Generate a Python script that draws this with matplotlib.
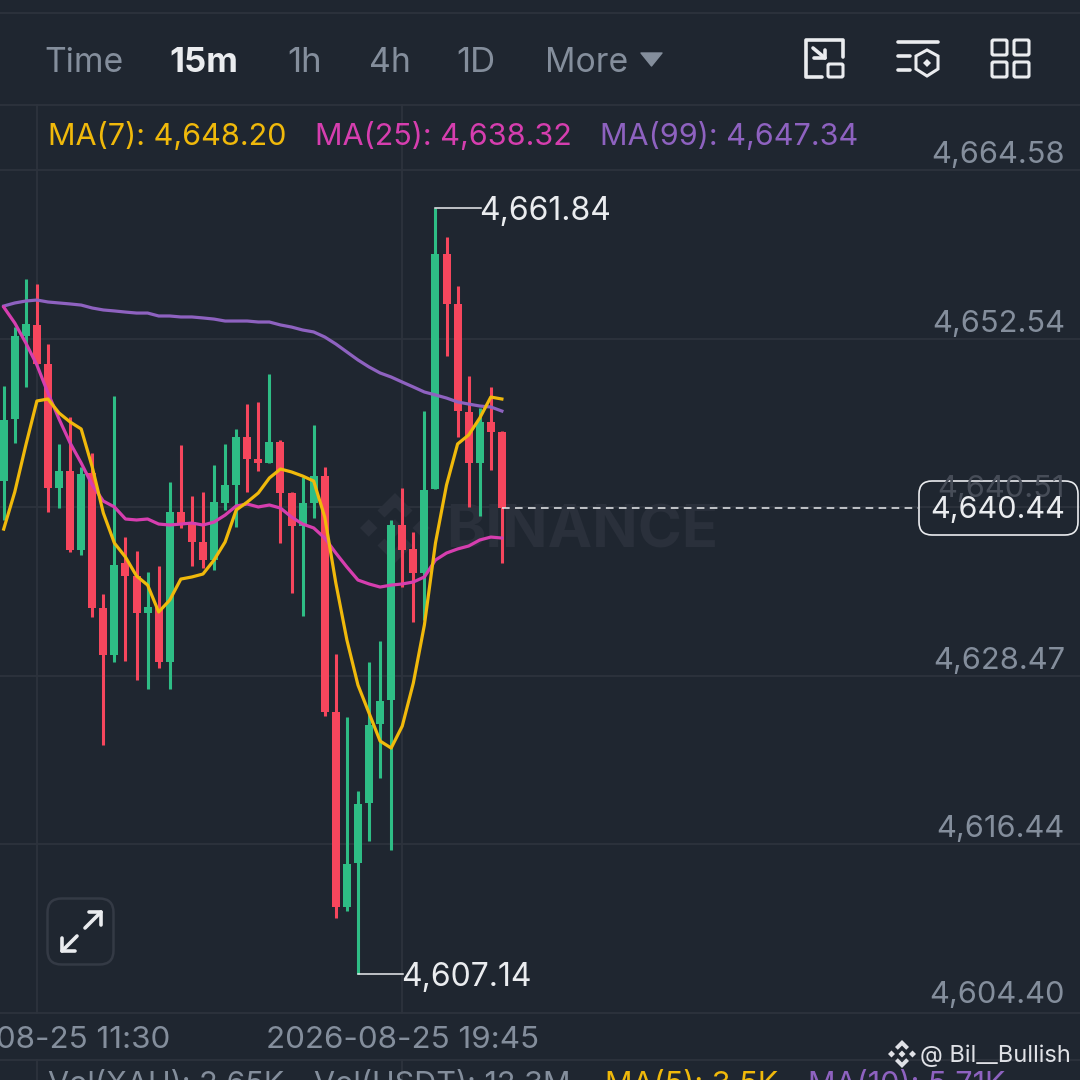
import matplotlib
matplotlib.use("Agg")
import matplotlib.pyplot as plt
from matplotlib.patches import FancyBboxPatch, Polygon

plt.rcParams['font.family'] = ['Inter', 'DejaVu Sans']

BG = '#1f2630'
GRID = '#2d333d'
GREEN = '#2ebd85'
RED = '#f6465d'
YELLOW = '#f0b90b'
PINK = '#d63eaf'
PURPLE = '#8e62c0'
GREY = '#848e9c'
WHITE = '#eaecef'
MARK = '#2a303b'

# 15m candles, oldest first
opens = [4642.36, 4646.79, 4652.72, 4653.51, 4650.72, 4641.86, 4643.08, 4637.43, 4642.93, 4633.29,
         4629.93, 4636.51, 4635.58, 4632.93, 4633.36, 4629.43, 4640.15, 4639.43, 4638.01, 4636.72,
         4640.79, 4642.08, 4645.51, 4643.93, 4643.65, 4645.15, 4641.51, 4639.15, 4640.79, 4642.72,
         4625.86, 4611.93, 4615.08, 4619.36, 4625.01, 4626.72, 4639.22, 4637.51, 4635.79, 4641.79,
         4658.58, 4655.01, 4647.29, 4643.65, 4646.58, 4645.86]
highs = [4649.15, 4653.36, 4656.79, 4656.43, 4652.15, 4645.01, 4646.93, 4643.36, 4644.36, 4634.29,
         4648.43, 4638.36, 4637.36, 4635.86, 4636.29, 4642.29, 4644.93, 4641.29, 4641.58, 4643.51,
         4645.01, 4646.08, 4647.86, 4648.01, 4650.01, 4645.29, 4641.58, 4642.65, 4646.36, 4643.36,
         4630.01, 4625.51, 4620.22, 4629.43, 4630.93, 4639.58, 4641.86, 4638.72, 4647.36, 4661.84,
         4659.79, 4656.29, 4649.86, 4647.58, 4649.08, 4645.93]
lows = [4639.58, 4645.08, 4649.08, 4650.72, 4640.15, 4640.43, 4637.29, 4637.08, 4632.65, 4623.51,
        4629.43, 4629.51, 4628.15, 4627.51, 4629.01, 4627.51, 4639.01, 4636.29, 4636.15, 4636.01,
        4640.29, 4639.08, 4641.58, 4643.08, 4643.65, 4637.93, 4634.36, 4632.72, 4639.72, 4625.58,
        4611.15, 4611.65, 4607.14, 4616.65, 4621.15, 4616.01, 4634.79, 4632.29, 4632.43, 4641.79,
        4651.29, 4645.51, 4640.51, 4639.86, 4643.15, 4636.51]
closes = [4646.72, 4652.72, 4653.58, 4650.72, 4641.86, 4643.08, 4637.43, 4642.86, 4633.29, 4629.93,
          4636.36, 4635.58, 4632.93, 4633.36, 4629.43, 4640.15, 4639.36, 4638.01, 4636.72, 4640.86,
          4642.08, 4645.51, 4643.93, 4643.65, 4645.15, 4641.51, 4639.15, 4640.79, 4642.72, 4625.86,
          4611.93, 4615.01, 4619.29, 4624.93, 4626.65, 4639.22, 4637.43, 4635.79, 4641.72, 4658.58,
          4655.01, 4647.36, 4643.65, 4646.58, 4645.86, 4640.44]

ma7 = [4638.93, 4641.58, 4644.93, 4648.08, 4648.22, 4647.22, 4646.58, 4646.08, 4643.36, 4640.08,
       4637.93, 4636.93, 4635.58, 4634.93, 4633.01, 4633.86, 4635.36, 4635.51, 4635.72, 4636.72,
       4638.01, 4640.29, 4640.86, 4641.51, 4642.58, 4643.22, 4643.01, 4642.72, 4642.36, 4639.79,
       4635.08, 4631.01, 4627.79, 4625.79, 4623.79, 4623.29, 4624.86, 4627.93, 4632.08, 4637.93,
       4642.08, 4645.01, 4645.65, 4646.86, 4648.36, 4648.22]
ma25 = [4654.79, 4653.65, 4652.22, 4650.65, 4648.65, 4646.79, 4645.08, 4643.65, 4642.08, 4640.93,
        4640.51, 4639.65, 4639.58, 4639.65, 4639.29, 4639.22, 4639.29, 4639.36, 4639.22, 4639.43,
        4639.93, 4640.58, 4640.72, 4640.51, 4640.65, 4640.43, 4639.79, 4639.29, 4639.01, 4638.29,
        4637.22, 4636.22, 4635.29, 4635.01, 4634.79, 4634.93, 4635.01, 4635.15, 4635.51, 4636.72,
        4637.22, 4637.51, 4637.72, 4638.15, 4638.36, 4638.29]
ma99 = [4654.86, 4655.08, 4655.22, 4655.29, 4655.15, 4655.08, 4655.01, 4654.93, 4654.72, 4654.58,
        4654.51, 4654.43, 4654.36, 4654.36, 4654.15, 4654.15, 4654.08, 4654.08, 4654.01, 4653.93,
        4653.79, 4653.79, 4653.79, 4653.72, 4653.72, 4653.51, 4653.36, 4653.15, 4653.01, 4652.65,
        4652.15, 4651.58, 4651.01, 4650.51, 4650.08, 4649.79, 4649.43, 4649.08, 4648.72, 4648.51,
        4648.29, 4648.01, 4647.86, 4647.72, 4647.65, 4647.36]

price_ticks = [4664.58, 4652.54, 4640.51, 4628.47, 4616.44, 4604.40]
time_ticks = [3, 36]
time_labels = ['2026-08-25 11:30', '2026-08-25 19:45']
high_idx, high_val = 39, 4661.84
low_idx, low_val = 32, 4607.14
last_price = 4640.44


def binance_logo(axis, trans, cx, cy, r, color, z):
    # five pieces: centre, left, right and the two chevrons
    for dx in (-0.75, 0, 0.75):
        s = 0.25 * r
        axis.add_patch(Polygon([(cx + dx * r - s, cy), (cx + dx * r, cy - s), (cx + dx * r + s, cy), (cx + dx * r, cy + s)],
                               closed=True, fc=color, ec='none', zorder=z, transform=trans))
    for sign in (-1, 1):
        pts = [(0, 1), (0.5, 0.5), (0.3, 0.3), (0, 0.6), (-0.3, 0.3), (-0.5, 0.5)]
        axis.add_patch(Polygon([(cx + a * r, cy + sign * b * r) for a, b in pts],
                               closed=True, fc=color, ec='none', zorder=z, transform=trans))


fig = plt.figure(figsize=(10.8, 10.8), dpi=100, facecolor=BG)

# price pane, the whole figure scaled so candles land where the app puts them
ax = fig.add_axes([0, 0, 1, 1], facecolor=BG)
ax.set_xlim(-0.334, 97.22)
ax.set_ylim(4599.58, 4676.72)
ax.axis('off')

# ui overlay in pixels for the app chrome
ui = fig.add_axes([0, 0, 1, 1], facecolor='none')
ui.set_xlim(0, 1080)
ui.set_ylim(1080, 0)
ui.axis('off')

# grid
for p in price_ticks:
    ax.axhline(p, color=GRID, lw=1.3, zorder=1)
for t in time_ticks:
    ax.plot([t, t], [4604.40, 4669.2], color=GRID, lw=1.3, zorder=1)
    ax.plot([t, t], [4601.0, 4599.58], color=GRID, lw=1.3, zorder=1)
ui.plot([0, 1080], [13, 13], color=GRID, lw=1.3)
ui.plot([0, 1080], [105, 105], color=GRID, lw=1.3)
ui.plot([0, 1080], [1060, 1060], color=GRID, lw=1.3)

# watermark, drawn in the price axes so the candles sit on top
binance_logo(ax, ui.transData, 395, 528, 35, MARK, 2)
ax.text(40.0, 4638.7, 'BINANCE', color=MARK, fontsize=43, fontweight='bold', va='center', ha='left', zorder=2)

# candles
for i in range(len(opens)):
    c = GREEN if closes[i] >= opens[i] else RED
    ax.plot([i, i], [lows[i], highs[i]], color=c, lw=2.2, solid_capstyle='butt', zorder=3)
    ax.bar(i, abs(closes[i] - opens[i]), bottom=min(opens[i], closes[i]), width=0.72, color=c, zorder=3)

# moving averages
x = list(range(len(ma7)))
ax.plot(x, ma99, color=PURPLE, lw=2.3, zorder=4)
ax.plot(x, ma25, color=PINK, lw=2.3, zorder=5)
ax.plot(x, ma7, color=YELLOW, lw=2.3, zorder=6)

# high / low markers
ax.plot([high_idx, high_idx + 4.1], [high_val, high_val], color=WHITE, lw=1.1, zorder=7)
ax.plot([low_idx, low_idx + 4.1], [low_val, low_val], color=WHITE, lw=1.1, zorder=7)
ax.text(high_idx + 3.97, high_val - 0.2, '4,661.84', color=WHITE, fontsize=23, va='center', ha='left', zorder=7)
ax.text(low_idx + 3.9, low_val - 0.25, '4,607.14', color=WHITE, fontsize=23, va='center', ha='left', zorder=7)

# last price line and tag
ax.plot([45, 82.6], [last_price, last_price], color=WHITE, lw=1.1, dashes=(5, 3.5), zorder=7)
label_y = [155, 324, 489, 661, 829, 995]
for p, y in zip(price_ticks, label_y):
    col = '#474d58' if p == 4640.51 else GREY
    ui.text(1065, y, f'{p:,.2f}', color=col, fontsize=22.2, ha='right', va='center')
ui.add_patch(FancyBboxPatch((919, 481), 159, 54, boxstyle='round,pad=0,rounding_size=13',
                            fc='none', ec=WHITE, lw=1.2))
ui.text(1065, 510, '4,640.44', color=WHITE, fontsize=22, ha='right', va='center')

# time labels
for t, lab, px in zip(time_ticks, time_labels, (37, 402)):
    ui.text(px, 1040, lab, color=GREY, fontsize=22.6, ha='center', va='center')

# top bar
ui.text(44.5, 63, 'Time', color=GREY, fontsize=24.3, va='center')
ui.text(169, 63, '15m', color=WHITE, fontsize=25, fontweight='bold', va='center')
ui.text(287, 63, '1h', color=GREY, fontsize=25, va='center')
ui.text(369, 63, '4h', color=GREY, fontsize=24.3, va='center')
ui.text(456, 63, '1D', color=GREY, fontsize=25, va='center')
ui.text(544.5, 63, 'More', color=GREY, fontsize=24.3, va='center')
ui.add_patch(Polygon([(641, 53), (662, 53), (651.5, 66)], closed=True, fc=GREY, ec=GREY, lw=1, joinstyle='round'))

# legend row
ui.text(48, 137, 'MA(7): 4,648.20', color=YELLOW, fontsize=22, va='center')
ui.text(315, 137, 'MA(25): 4,638.32', color=PINK, fontsize=22, va='center')
ui.text(600, 137, 'MA(99): 4,647.34', color=PURPLE, fontsize=22, va='center')

# icons top right
ic = dict(color=WHITE, lw=2.6, solid_capstyle='round', solid_joinstyle='round')
ui.plot([822, 806, 806, 843, 843], [77, 77, 40, 40, 57], **ic)
ui.add_patch(FancyBboxPatch((828, 64), 15, 13, boxstyle='round,pad=0,rounding_size=1.5', fc='none', ec=WHITE, lw=2.2))
ui.plot([813, 825], [48, 58], **ic)
ui.plot([814, 825, 825], [58, 58, 50], **ic)
ui.plot([898, 938], [42, 42], **ic)
ui.plot([898, 910], [56, 56], **ic)
ui.plot([898, 910], [70, 70], **ic)
ui.add_patch(Polygon([(927, 50), (938, 56), (938, 69), (927, 76), (916, 69), (916, 56)], closed=True,
                     fc='none', ec=WHITE, lw=2.2))
ui.add_patch(Polygon([(927, 59), (931, 63), (927, 67), (923, 63)], closed=True, fc=WHITE, ec='none'))
for gx in (992, 1014):
    for gy in (40, 62):
        ui.add_patch(FancyBboxPatch((gx, gy), 15, 15, boxstyle='round,pad=0,rounding_size=1.5',
                                    fc='none', ec=WHITE, lw=2.2))

# expand button
ui.add_patch(FancyBboxPatch((47.5, 898.5), 66, 66, boxstyle='round,pad=0,rounding_size=14',
                            fc='none', ec='#343a45', lw=1.8))
ui.plot([85, 101], [928, 912], **ic)
ui.plot([89, 101, 101], [912, 912, 925], **ic)
ui.plot([77, 62], [936, 951], **ic)
ui.plot([62, 62, 75], [938, 951, 951], **ic)

# author tag
binance_logo(ui, ui.transData, 902, 1054, 14, '#dfe1e6', 8)
ui.text(920, 1056, '@ Bil__Bullish', color='#dfe1e6', fontsize=17, va='center')

# volume row, cut by the bottom edge
ui.text(48, 1085, 'Vol(XAU): 2.65K', color=GREY, fontsize=22, va='center')
ui.text(314, 1085, 'Vol(USDT): 12.3M', color=GREY, fontsize=22, va='center')
ui.text(605, 1085, 'MA(5): 3.5K', color=YELLOW, fontsize=22, va='center')
ui.text(808, 1085, 'MA(10): 5.71K', color=PURPLE, fontsize=22, va='center')

fig.savefig('out.png', dpi=100, facecolor=BG)
